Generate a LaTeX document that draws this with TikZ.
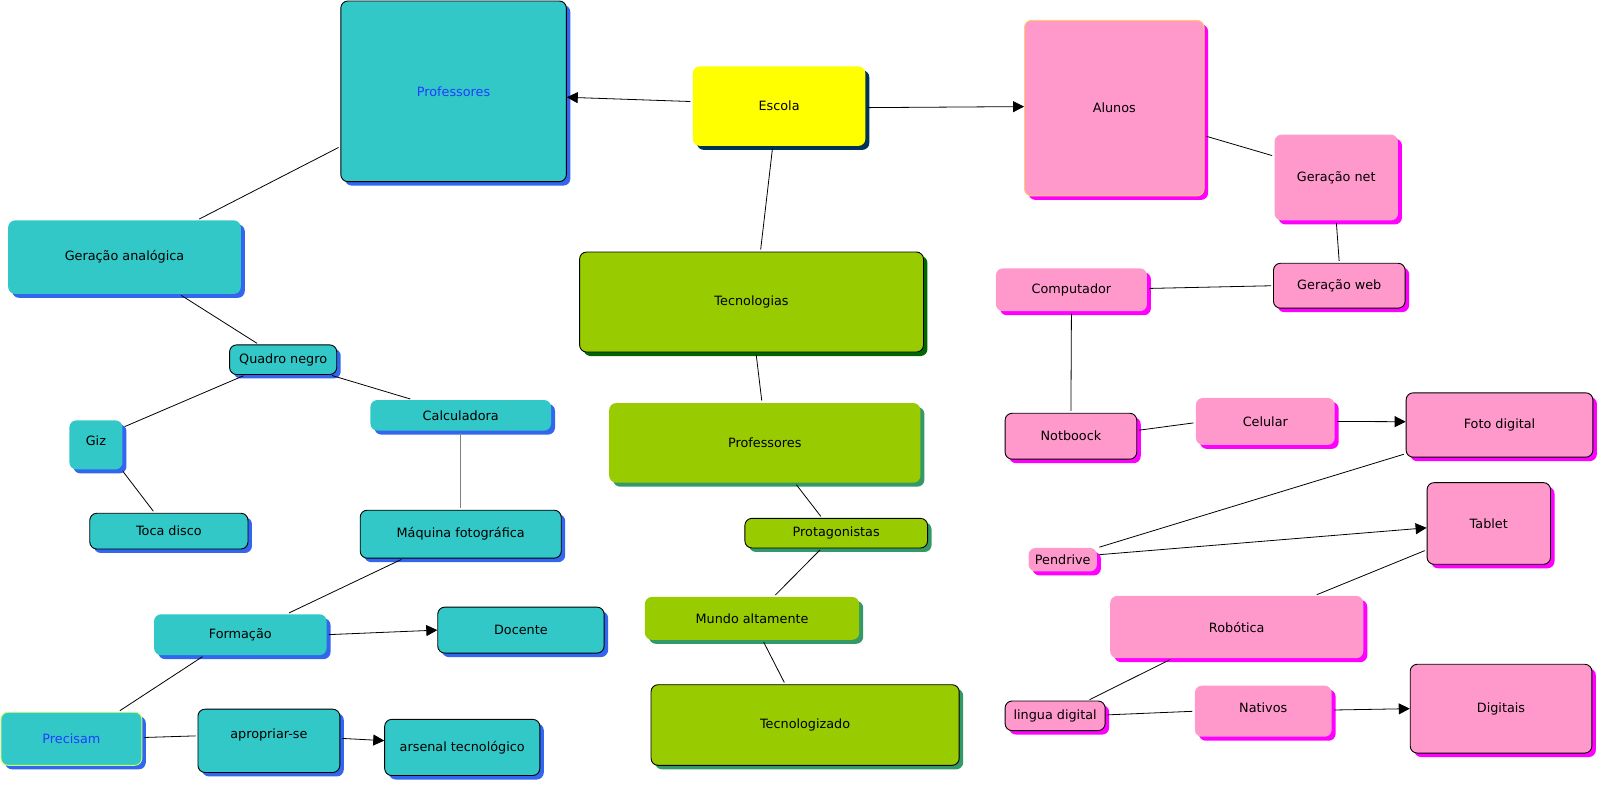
\documentclass[tikz,border=0pt]{standalone}
\usepackage{fontspec}
\setmainfont{DejaVu Sans}
\usetikzlibrary{shadows,arrows.meta}
\definecolor{tealc}{RGB}{51,200,200}
\definecolor{tealsh}{RGB}{51,102,238}
\definecolor{bluetxt}{RGB}{30,60,255}
\definecolor{yelc}{RGB}{255,255,0}
\definecolor{navysh}{RGB}{0,51,85}
\definecolor{pinkc}{RGB}{255,153,204}
\definecolor{pinksh}{RGB}{255,0,255}
\definecolor{greenc}{RGB}{153,204,0}
\definecolor{dgreensh}{RGB}{0,102,0}
\definecolor{greensh}{RGB}{51,153,102}
\definecolor{alunobd}{RGB}{255,204,102}
\definecolor{precbd}{RGB}{204,255,102}
\newcommand\upby[2]{\raisebox{#1}[\height][\depth]{#2}}
\tikzset{
 sz/.style 2 args={minimum width=#1*1.0204pt, minimum height=#2*1.0204pt},
 base/.style={rectangle, rounded corners=7pt, inner sep=0pt, line width=0.9pt, font=\fontsize{12.8pt}{15pt}\selectfont, text=black},
 tbox/.style={base, fill=tealc, drop shadow={fill=tealsh, opacity=1, shadow xshift=4pt, shadow yshift=-4pt}},
 ybox/.style={base, fill=yelc, drop shadow={fill=navysh, opacity=1, shadow xshift=4pt, shadow yshift=-4pt}},
 pbox/.style={base, fill=pinkc, drop shadow={fill=pinksh, opacity=1, shadow xshift=4pt, shadow yshift=-4pt}},
 gbox/.style={base, fill=greenc, drop shadow={fill=greensh, opacity=1, shadow xshift=4pt, shadow yshift=-4pt}},
 dgbox/.style={base, fill=greenc, drop shadow={fill=dgreensh, opacity=1, shadow xshift=4pt, shadow yshift=-4pt}},
 bd/.style={draw=black},
 conn/.style={line width=0.8pt, shorten <=2pt, shorten >=2pt},
 arr/.style={line width=0.8pt, -{Triangle[length=11pt,width=11pt]}, shorten <=2pt},
}
\begin{document}
\begin{tikzpicture}[x=1.0204pt,y=-1.0204pt]
\useasboundingbox (0,0) rectangle (1568,769.3);

% teal
\node[tbox, bd, sz={221}{177}, text=bluetxt] (profT) at (444.5,89.5) {Professores};
\node[tbox, sz={228}{72}] (gerA) at (122,252) {Geração analógica};
\node[tbox, bd, sz={105}{29}] (quadro) at (277.5,352.5) {Quadro negro};
\node[tbox, sz={52}{48}] (giz) at (94,436) {\upby{4pt}{Giz}};
\node[tbox, sz={177}{30}] (calc) at (451.5,407) {Calculadora};
\node[tbox, bd, sz={155}{35}] (toca) at (165.5,520.5) {Toca disco};
\node[tbox, bd, sz={197}{47}] (maq) at (451.5,523.5) {Máquina fotográfica};
\node[tbox, sz={169}{40}] (form) at (235.5,622) {Formação};
\node[tbox, bd, sz={163}{45}] (docente) at (510.5,617.5) {Docente};
\node[tbox, draw=precbd, sz={138}{52}, text=bluetxt] (precisam) at (70,724) {Precisam};
\node[tbox, bd, sz={139}{62}] (aprop) at (263.5,726) {\upby{6pt}{apropriar-se}};
\node[tbox, bd, sz={152}{55}] (arsenal) at (453,732.5) {arsenal tecnológico};

% yellow
\node[ybox, sz={169}{78}] (escola) at (763.5,104) {Escola};

% green
\node[dgbox, bd, sz={337}{98}] (tecnol) at (736.5,296) {Tecnologias};
\node[gbox, sz={305}{78}] (profG) at (749.5,434) {Professores};
\node[gbox, bd, sz={179}{29}] (protag) at (819.5,522.5) {Protagonistas};
\node[gbox, sz={210}{42}] (mundo) at (737,606) {Mundo altamente};
\node[gbox, bd, sz={302}{79}] (tecnz) at (789,710.5) {Tecnologizado};

% pink
\node[pbox, draw=alunobd, sz={176}{172}] (alunos) at (1092,106) {Alunos};
\node[pbox, sz={121}{84}] (genet) at (1309.5,174) {Geração net};
\node[pbox, bd, sz={129}{44}] (geweb) at (1312.5,280) {Geração web};
\node[pbox, sz={148}{42}] (comp) at (1050,284) {Computador};
\node[pbox, bd, sz={129}{45}] (notb) at (1049.5,427.5) {Notboock};
\node[pbox, sz={136}{46}] (celular) at (1240,413) {Celular};
\node[pbox, bd, sz={183}{63}] (foto) at (1469.5,416.5) {Foto digital};
\node[pbox, bd, sz={121}{80}] (tablet) at (1459,513) {Tablet};
\node[pbox, sz={67}{23}] (pendrive) at (1041.5,548.5) {Pendrive};
\node[pbox, sz={248}{61}] (robotica) at (1212,614.5) {Robótica};
\node[pbox, bd, sz={98}{29}] (lingua) at (1034,701.5) {lingua digital};
\node[pbox, sz={134}{50}] (nativos) at (1238,697) {\upby{4pt}{Nativos}};
\node[pbox, bd, sz={178}{87}] (digitais) at (1471,694.5) {Digitais};

% connectors
\draw[arr] (escola.177.3) -- (profT.357.7);
\draw[arr] (escola.359.3) -- (alunos.179.4);
\draw[conn] (escola.261.6) -- (tecnol.80.5);
\draw[conn] (profT.206.3) -- (gerA.27.5);
\draw[conn] (gerA.326.7) -- (quadro.148.7);
\draw[conn] (quadro.202.9) -- (giz.33.2);
\draw[conn] (quadro.342.5) -- (calc.162.6);
\draw[conn] (giz.316.4) -- (toca.128.1);
\draw[conn, draw=gray] (calc.south) -- (maq.north);
\draw[conn] (maq.203.9) -- (form.24.4);
\draw[arr] (form.0.65) -- (docente.180.3);
\draw[conn] (form.210.6) -- (precisam.30.8);
\draw[conn] (precisam.1.5) -- (aprop.176);
\draw[arr] (aprop.2.3) -- (arsenal.175.2);
\draw[conn] (tecnol.275.9) -- (profG.94.8);
\draw[conn] (profG.307.9) -- (protag.133.1);
\draw[conn] (protag.226.5) -- (mundo.45);
\draw[conn] (mundo.296.6) -- (tecnz.116.8);
\draw[conn] (alunos.343.1) -- (genet.161.4);
\draw[conn] (genet.south) -- (geweb.north);
\draw[conn] (geweb.180) -- (comp.1.5);
\draw[conn] (comp.south) -- (notb.north);
\draw[conn] (notb.5.4) -- (celular.181.6);
\draw[arr] (celular.0) -- (foto.178.5);
\draw[conn] (foto.197.5) -- (pendrive.19.4);
\draw[arr] (pendrive.8.3) -- (tablet.184.5);
\draw[conn] (tablet.203.5) -- (robotica.22.2);
\draw[conn] (robotica.206.6) -- (lingua.25.8);
\draw[conn] (lingua.1.6) -- (nativos.180.8);
\draw[arr] (nativos.1.6) -- (digitais.180);
\end{tikzpicture}
\end{document}
